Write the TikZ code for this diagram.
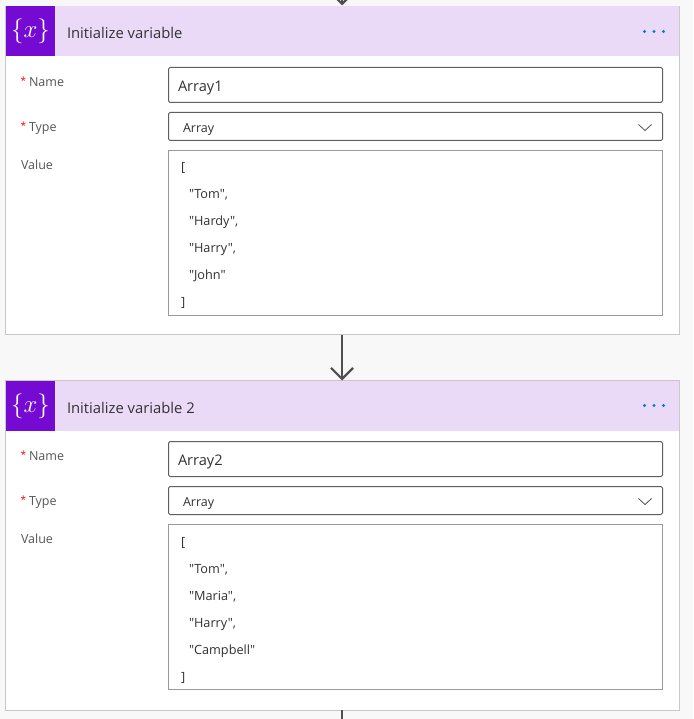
\documentclass[tikz,border=0pt]{standalone}
\usepackage{fontspec}
\setmainfont[Ligatures=TeXOff]{Open Sans}
\usepackage{xcolor}
\usetikzlibrary{arrows.meta}
\definecolor{flowbg}{RGB}{248,248,248}
\definecolor{flowedge}{RGB}{200,200,200}
\definecolor{flowhead}{RGB}{234,218,247}
\definecolor{flowicon}{RGB}{117,11,210}
\definecolor{flowdots}{RGB}{0,120,215}
\definecolor{flowlink}{RGB}{80,80,80}
\definecolor{flowlabel}{RGB}{85,85,85}
\definecolor{flowtext}{RGB}{50,50,50}
\definecolor{flowfield}{RGB}{96,94,92}
\definecolor{flowarea}{RGB}{155,155,155}

\tikzset{
    every node/.style={outer sep=0pt},
    cardbox/.style={draw=flowedge, fill=white, line width=1pt, anchor=north west, minimum width=674pt, minimum height=328pt, inner sep=0pt},
    headbar/.style={fill=flowhead, anchor=north west, minimum width=672.5pt, minimum height=50pt, inner sep=0pt},
    iconbox/.style={fill=flowicon, text=white, anchor=north west, minimum width=49pt, minimum height=50pt, inner sep=0pt, font=\fontsize{25}{25}\selectfont},
    headtext/.style={anchor=west, inner sep=0pt, text=flowtext, font=\fontsize{14.8}{17}\selectfont},
    fieldlabel/.style={anchor=west, inner sep=0pt, text=flowlabel, font=\fontsize{12.5}{15}\selectfont},
    redstar/.style={anchor=west, inner sep=0pt, text=red, font=\fontsize{10}{12}\selectfont},
    namebox/.style={draw=flowfield, rounded corners=1.5pt, line width=1pt, anchor=north west, minimum width=494pt, minimum height=35pt, inner sep=0pt},
    typebox/.style={namebox, minimum height=28pt},
    valuebox/.style={draw=flowarea, line width=1pt, anchor=north west, minimum width=494pt, minimum height=165pt, inner sep=0pt},
    fieldtext/.style={anchor=west, inner sep=0pt, text=flowtext, font=\fontsize{14.6}{17}\selectfont},
    typetext/.style={anchor=west, inner sep=0pt, text=flowtext, font=\fontsize{12.5}{15}\selectfont},
    valuetext/.style={anchor=west, inner sep=0pt, text=flowtext, font=\fontsize{12.7}{15}\selectfont},
    linkarrow/.style={-{Straight Barb[length=11pt, width=22pt, line width=2.2pt]}, draw=flowlink, line width=2.2pt},
}

\begin{document}
\begin{tikzpicture}[x=1pt, y=-1pt]
    \clip (0,0) rectangle (693,719);
    \fill[flowbg] (0,0) rectangle (693,719);

    % Card 1 - Array1
    \node[cardbox] (cardone) at (5.5,6.5) {};
    \node[headbar] (headone) at (6,6.5) {};
    \node[iconbox] (iconone) at (6,6.5) {$\{x\}$};
    \node[headtext] (titleone) at (67,32.5) {Initialize variable};
    \foreach \px in {644.5,654,663.5}
        \fill[flowdots] (\px,31.5) circle (1.6);
    \node[redstar] (starnameone) at (20.5,80.5) {*};
    \node[fieldlabel] (labelnameone) at (29,82) {Name};
    \node[redstar] (startypeone) at (20.5,125.5) {*};
    \node[fieldlabel] (labeltypeone) at (29,128.5) {Type};
    \node[fieldlabel] (labelvalueone) at (21,165) {Value};
    \node[namebox] (nameone) at (168.5,67.5) {};
    \node[fieldtext] (nametextone) at (178,88) {Array1};
    \node[typebox] (typeone) at (168.5,112.5) {};
    \node[typetext] (typetextone) at (183,130) {Array};
    \draw[flowlink, line width=0.8pt] (638.5,124.5) -- (645,130.5) -- (651.5,124.5);
    \node[valuebox] (valueone) at (168.5,150.5) {};
    \node[valuetext] (lineonea) at (181,167.5) {[};
    \node[valuetext] (lineoneb) at (189,195) {"Tom",};
    \node[valuetext] (lineonec) at (189,222) {"Hardy",};
    \node[valuetext] (lineoned) at (189,249) {"Harry",};
    \node[valuetext] (lineonee) at (189,276) {"John"};
    \node[valuetext] (lineonef) at (181,303) {]};

    % Card 2 - Array2
    \node[cardbox, minimum height=329.5pt] (cardtwo) at (5.5,380.5) {};
    \node[headbar] (headtwo) at (6,381) {};
    \node[iconbox] (icontwo) at (6,381) {$\{x\}$};
    \node[headtext] (titletwo) at (67,407.5) {Initialize variable 2};
    \foreach \px in {644.5,654,663.5}
        \fill[flowdots] (\px,405.5) circle (1.6);
    \node[redstar] (starnametwo) at (20.5,454.5) {*};
    \node[fieldlabel] (labelnametwo) at (29,456) {Name};
    \node[redstar] (startypetwo) at (20.5,499.5) {*};
    \node[fieldlabel] (labeltypetwo) at (29,502.5) {Type};
    \node[fieldlabel] (labelvaluetwo) at (21,539) {Value};
    \node[namebox] (nametwo) at (168.5,441.5) {};
    \node[fieldtext] (nametexttwo) at (178,462) {Array2};
    \node[typebox] (typetwo) at (168.5,486.5) {};
    \node[typetext] (typetexttwo) at (183,504) {Array};
    \draw[flowlink, line width=0.8pt] (638.5,498.5) -- (645,504.5) -- (651.5,498.5);
    \node[valuebox] (valuetwo) at (168.5,524.5) {};
    \node[valuetext] (linetwoa) at (181,542.5) {[};
    \node[valuetext] (linetwob) at (189,570) {"Tom",};
    \node[valuetext] (linetwoc) at (189,597) {"Maria",};
    \node[valuetext] (linetwod) at (189,624) {"Harry",};
    \node[valuetext] (linetwoe) at (189,651) {"Campbell"};
    \node[valuetext] (linetwof) at (181,678) {]};

    % Arrows
    \coordinate (topstart) at (342,-30);
    \coordinate (topend) at (342,5.5);
    \coordinate (bottomend) at (342,730);
    \draw[linkarrow] (topstart) -- (topend);
    \draw[linkarrow] (cardone.south -| topend) -- (cardtwo.north -| topend);
    \draw[flowlink, line width=2.2pt] (cardtwo.south -| topend) -- (bottomend);
\end{tikzpicture}
\end{document}
